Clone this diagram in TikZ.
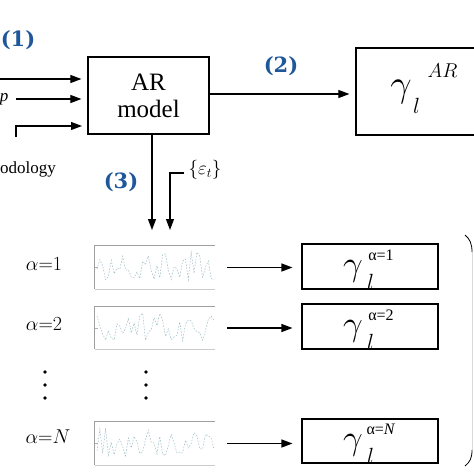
\documentclass[tikz,border=0pt]{standalone}
\usepackage{fix-cm}
\usepackage{fontspec}
\setmainfont{Liberation Serif}
\newfontfamily\labfont{DejaVu Serif}
\usetikzlibrary{arrows.meta,calc}
\definecolor{lblue}{RGB}{31,88,154}
\definecolor{noisec}{RGB}{70,130,145}
\begin{document}
\begin{tikzpicture}[x=1pt,y=-1pt,
  arr/.style={-{Triangle[length=11pt,width=8pt]}, line width=1.1pt},
  box/.style={draw, line width=1.2pt, inner sep=0pt},
  gbox/.style={draw, line width=1.1pt, inner sep=0pt, minimum width=136pt},
  tag/.style={text=lblue, inner sep=0pt, font=\labfont\bfseries\fontsize{21}{21}\selectfont},
  lab/.style={inner sep=0pt, font=\fontsize{17}{17}\selectfont},
  alab/.style={inner sep=0pt, font=\fontsize{20}{20}\selectfont},
  splot/.style={inner sep=0pt, minimum width=120pt},
  frameA/.style={draw=gray!75, line width=0.8pt},
  frameB/.style={draw=gray!40, line width=0.7pt},
  noise/.style={draw=noisec, opacity=0.55, line width=0.5pt, dash pattern=on 1.5pt off 1.5pt},
  gam/.style={inner sep=0pt, font=\fontsize{35}{35}\selectfont},
  gsub/.style={inner sep=0pt, font=\fontsize{22}{22}\selectfont},
  gsup/.style={inner sep=0pt, font=\fontsize{16}{16}\selectfont},
  dotty/.style={fill=black}
]
\useasboundingbox (0,0) rectangle (474,474);

% tags
\node[tag] (t1) at (18,40) {(1)};
\node[tag] (t2) at (281,66) {(2)};
\node[tag] (t3) at (121,182) {(3)};

% AR model box
\node[box, minimum width=121pt, minimum height=77pt, align=center,
      font=\fontsize{25}{27}\selectfont] (ar) at (148.5,95.5) {AR\\model};

% gamma AR box
\node[box, minimum width=124pt, minimum height=87pt] (gar) at (418,91.5) {};
\node[inner sep=0pt, font=\fontsize{38}{38}\selectfont] (garg) at (401,92.5) {$\gamma$};
\node[inner sep=0pt, font=\fontsize{22}{22}\selectfont] (garl) at (416.5,105.5) {$l$};
\node[inner sep=0pt, font=\fontsize{20}{20}\selectfont] (gars) at (442.5,71) {$AR$};

% inputs
\coordinate (i1) at (-5,79);
\draw[arr, shorten >=6pt] (i1) -- (i1 -| ar.west);
\node[lab, font=\itshape\fontsize{17}{17}\selectfont] (p) at (4,99) {p};
\coordinate (i2) at (16,99);
\draw[arr, shorten >=6pt] (i2) -- (i2 -| ar.west);
\coordinate (i3) at (16,137);
\coordinate (i3t) at (88,126);
\draw[arr, shorten >=6pt] (i3) |- (i3t);
\node[lab, anchor=base east] (meth) at (56,173) {odology};

% output to gamma AR
\coordinate (o1) at (209,94);
\draw[arr, shorten >=6pt] (o1) -- (o1 -| gar.west);

% down arrows
\coordinate (d1) at (152,230);
\draw[arr] (d1 |- ar.south) -- (d1);
\node[lab, font=\fontsize{19}{19}\selectfont] (eps) at (205,170) {$\{\varepsilon_{t}\}$};
\coordinate (e0) at (184,173);
\coordinate (d2) at (170,230);
\draw[arr] (e0) -| (d2);

% alpha labels
\node[alab] (a1) at (44,264) {$\alpha{=}1$};
\node[alab] (a2) at (44,324) {$\alpha{=}2$};
\node[alab] (aN) at (48,437) {$\alpha{=}N$};

% dots
\foreach \yy in {372,385,398} {
  \fill[dotty] (45,\yy) circle (1.9);
  \fill[dotty] (146,\yy) circle (1.9);
}

% series plots
\node[splot, minimum height=43pt] (s1) at (155,267.5) {};
\node[splot, minimum height=42pt] (s2) at (155,328) {};
\node[splot, minimum height=43pt] (sN) at (155,443.5) {};
\foreach \s in {s1,s2,sN} {
  \draw[frameA] (\s.north east) -- (\s.north west) -- (\s.south west);
  \draw[frameB] (\s.south west) -- (\s.south east);
  \draw[gray!60, line width=0.6pt] (\s.west) -- ++(3,0);
}
\pgfmathsetseed{7}
\draw[noise] plot[domain=97:214, samples=42] (\x, {266 + 14*rand});
\pgfmathsetseed{21}
\draw[noise] plot[domain=97:214, samples=42] (\x, {327 + 14*rand});
\pgfmathsetseed{33}
\draw[noise] plot[domain=97:214, samples=42] (\x, {442 + 14*rand});

% gamma boxes
\node[gbox, minimum height=45pt] (g1) at (370,266.5) {};
\node[gbox, minimum height=45pt] (g2) at (370,326.5) {};
\node[gbox, minimum height=44pt] (gN) at (370,441) {};
\foreach \g/\t in {g1/{α=1}, g2/{α=2}, gN/{α=\textit{N}}} {
  \node[gam] at ($(\g)+(-17,4.5)$) {$\gamma$};
  \node[gsub] at ($(\g)+(0.5,15)$) {$l$};
  \node[gsup] at ($(\g)+(11,-11.5)$) {\t};
}

% arrows plots -> gamma
\draw[arr, shorten <=12pt, shorten >=9pt] (s1.east) -- (s1.east -| g1.west);
\draw[arr, shorten <=12pt, shorten >=9pt] (s2.east) -- (s2.east -| g2.west);
\draw[arr, shorten <=12pt, shorten >=9pt] (sN.east) -- (sN.east -| gN.west);

% right brace
\draw[line width=0.8pt] (465,235) .. controls (470,239) and (472,244) .. (472,252);
\draw[gray!30, line width=0.6pt] (472,252) -- (472,450);
\draw[line width=0.8pt] (472,450) .. controls (472,458) and (470,462) .. (465,466);
\end{tikzpicture}
\end{document}
